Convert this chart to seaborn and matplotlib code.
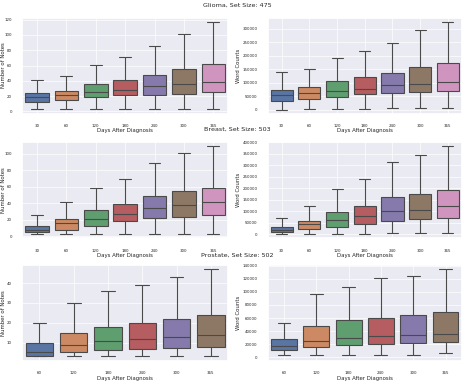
import numpy as np
import pandas as pd
import matplotlib
matplotlib.use("Agg")
import matplotlib.pyplot as plt
from matplotlib.ticker import MultipleLocator
import seaborn as sns

sns.set_theme(style="darkgrid")

# box stats per day: [min, q1, median, q3, max]
days_gb = ["30", "60", "120", "180", "240", "300", "365"]
days_pr = ["60", "120", "180", "240", "300", "365"]

glioma_notes = [[3, 13, 19, 24, 41], [3, 15, 21, 27, 46], [3, 19, 25, 36, 61],
                [3, 21, 28, 41, 71], [3, 22, 33, 48, 86], [3, 23, 36, 55, 101],
                [3, 25, 39, 62, 117]]
glioma_words = [[1000, 32000, 53000, 74000, 138000], [3700, 40600, 62700, 86000, 150000],
                [3700, 46700, 71300, 105700, 192000], [3700, 57800, 78700, 121700, 217600],
                [7400, 62700, 91000, 137700, 247000], [7400, 66400, 97100, 157400, 294000],
                [7400, 70100, 104500, 173400, 324600]]
breast_notes = [[3, 5.6, 8, 13, 26], [3, 8, 15.7, 21, 41], [3, 13, 21, 32, 59],
                [3, 18, 26.5, 39, 70], [3, 22, 34.5, 49, 89], [3, 23, 38.5, 55, 101],
                [3, 26, 42, 59, 109]]
breast_words = [[2000, 11500, 20200, 33200, 69300], [1500, 21700, 43300, 59200, 121300],
                [1500, 30300, 62100, 96800, 197800], [1500, 46200, 80900, 124200, 239700],
                [5800, 56300, 101100, 163200, 311900], [5800, 65000, 106900, 174700, 342200],
                [7200, 70800, 121300, 193500, 381200]]
prostate_notes = [[3, 3.2, 5.2, 10, 20], [3, 5, 8.7, 15, 30], [3, 6, 11, 18, 36],
                  [3, 7, 12, 20, 39], [3, 7.3, 13, 22, 43], [3, 8, 14, 24, 47]]
prostate_words = [[2500, 11500, 16600, 28100, 52200], [3000, 15000, 25100, 48200, 97300],
                  [3000, 18100, 29600, 56200, 107400], [3000, 20100, 32100, 60200, 121400],
                  [3000, 21600, 34100, 64200, 124400], [6000, 23600, 36100, 69200, 135000]]

titles = ["Glioma, Set Size: 475", "Breast, Set Size: 503", "Prostate, Set Size: 502"]


def to_frame(days, stats, col):
    rows = []
    for d, s in zip(days, stats):
        for v in s:
            rows.append({"Days After Diagnosis": d, col: v})
    return pd.DataFrame(rows)


fig = plt.figure(figsize=(4.74, 3.81), dpi=100)

panels = [
    (days_gb, glioma_notes, glioma_words, 20, 50000),
    (days_gb, breast_notes, breast_words, 20, 50000),
    (days_pr, prostate_notes, prostate_words, 10, 20000),
]
bottoms = [0.702, 0.375, 0.053]
title_y = [0.985, 0.660, 0.330]

for i, (days, notes, words, step_n, step_w) in enumerate(panels):
    ax1 = fig.add_axes([0.047, bottoms[i], 0.434, 0.252])
    ax2 = fig.add_axes([0.565, bottoms[i], 0.409, 0.252])
    for ax, stats, col, step, lx in [(ax1, notes, "Number of Notes", step_n, -0.08),
                                     (ax2, words, "Word Counts", step_w, -0.136)]:
        df = to_frame(days, stats, col)
        sns.boxplot(data=df, x="Days After Diagnosis", y=col, hue="Days After Diagnosis",
                    palette="deep", whis=(0, 100), linewidth=0.8, linecolor="#4a4a4a",
                    showfliers=False, legend=False, ax=ax)
        ax.yaxis.set_major_locator(MultipleLocator(step))
        ax.ticklabel_format(axis="y", style="plain")
        ax.tick_params(labelsize=2.9, pad=1.5)
        ax.set_xlabel("Days After Diagnosis", fontsize=3.9, labelpad=0.3)
        ax.set_ylabel(col, fontsize=3.9)
        ax.yaxis.set_label_coords(lx, 0.5)
        ax.grid(linewidth=0.5)
    ax2.set_ylim(bottom=-0.04 * ax2.get_ylim()[1])
    fig.text(0.5, title_y[i], titles[i], ha="center", va="center", fontsize=4.6)

fig.savefig("out.png", dpi=100)
